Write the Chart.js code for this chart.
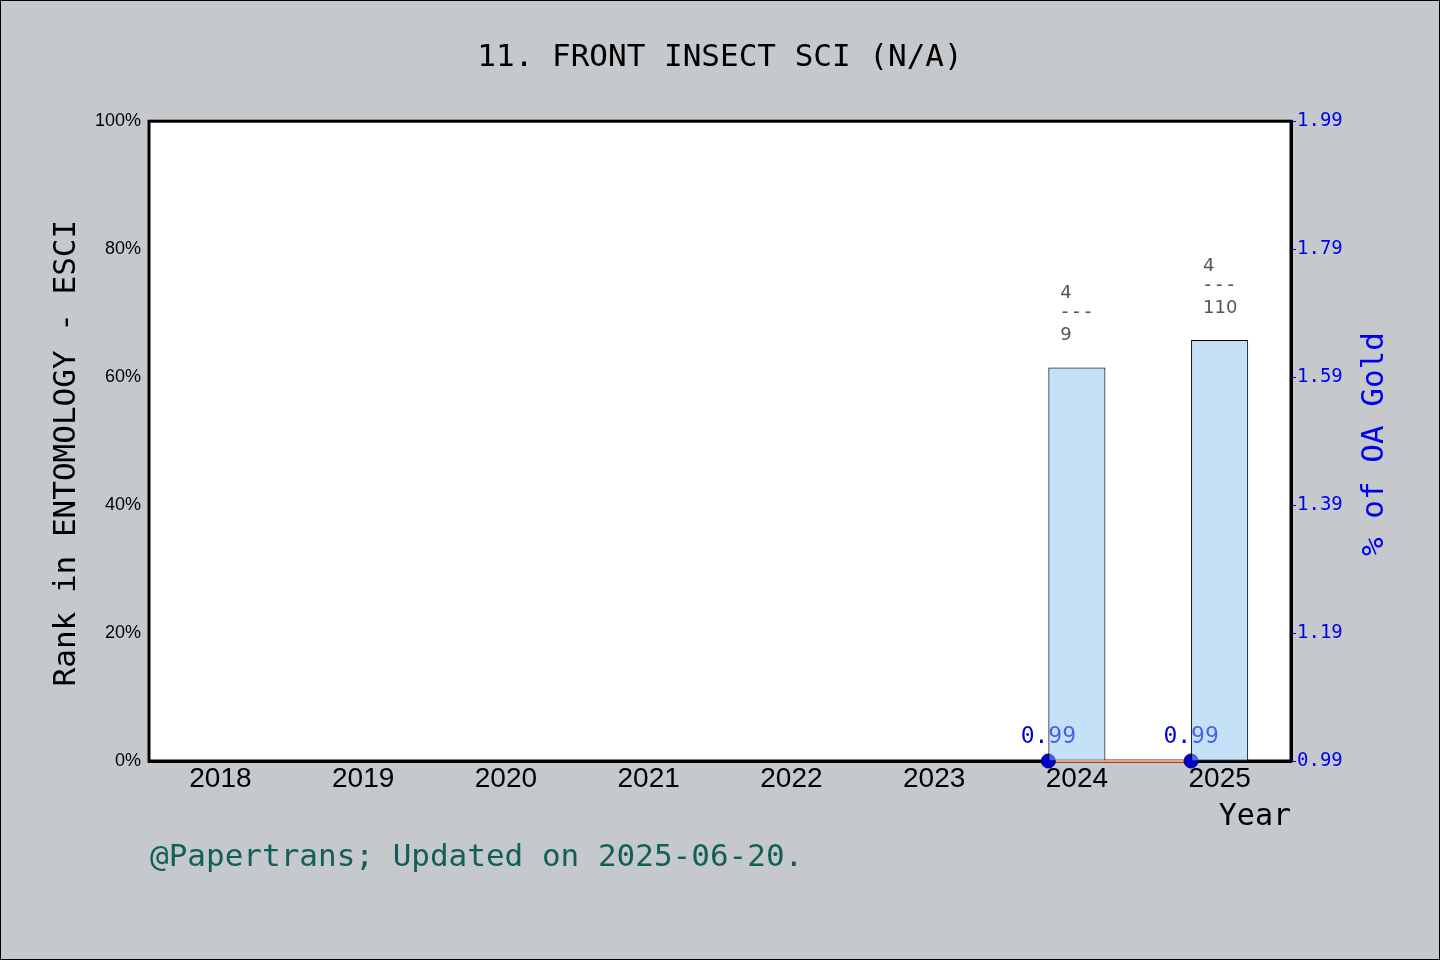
<!DOCTYPE html>
<html>
<head>
<meta charset="utf-8">
<script src="https://cdn.jsdelivr.net/npm/chart.js@4/dist/chart.umd.min.js"></script>
<style>
  html, body { margin: 0; padding: 0; background: #c5c9cc; }
  #wrap { position: relative; width: 1440px; height: 960px; box-sizing: border-box; border: 1px solid #000; }
  #footer { position: absolute; left: 149px; top: 836px; font: 31px "DejaVu Sans Mono", monospace; color: #135e58; white-space: pre; }
</style>
</head>
<body>
<div id="wrap">
  <canvas id="chart" width="1438" height="958"></canvas>
  <div id="footer">@Papertrans; Updated on 2025-06-20.</div>
</div>
<script>
// chart values
const years = ["2018", "2019", "2020", "2021", "2022", "2023", "2024", "2025"];
const rankPct = [null, null, null, null, null, null, 61.5, 65.8];   // bar height, % of category
const rankPos = [null, null, null, null, null, null, 4, 4];
const rankTotal = [null, null, null, null, null, null, 9, 110];
const oaGold = [null, null, null, null, null, null, 0.99, 0.99];    // right axis
const oaOffset = -0.2;   // points sit on the bar's left edge
const rightTicks = [0.99, 1.19, 1.39, 1.59, 1.79, 1.99];

const MONO = '"DejaVu Sans Mono", monospace';
const SANS = '"Liberation Sans", Arial, sans-serif';

const barData = [];
const lineData = [];
years.forEach((y, i) => {
    if (rankPct[i] != null) barData.push({ x: i, y: rankPct[i] });
    if (oaGold[i] != null) lineData.push({ x: i + oaOffset, y: oaGold[i] });
});

function vText(ctx, text, x, y, color) {
    ctx.save();
    ctx.translate(x, y);
    ctx.rotate(-Math.PI / 2);
    ctx.font = '31px ' + MONO;
    ctx.fillStyle = color;
    ctx.textAlign = 'center';
    ctx.textBaseline = 'middle';
    ctx.fillText(text, 0, 0);
    ctx.restore();
}

// white plot area, frame, side titles, labels
const extras = {
    id: 'extras',
    beforeDatasetsDraw(chart) {
        const a = chart.chartArea;
        const ctx = chart.ctx;
        ctx.save();
        ctx.fillStyle = '#fff';
        ctx.fillRect(a.left, a.top, a.right - a.left, a.bottom - a.top);
        ctx.strokeStyle = '#000';
        ctx.lineWidth = 3;
        ctx.strokeRect(a.left, a.top, a.right - a.left, a.bottom - a.top);
        ctx.restore();
    },
    afterDatasetDraw(chart, args) {
        // values of the OA line are drawn under the bars
        if (args.index !== 1) return;
        const ctx = chart.ctx;
        ctx.save();
        ctx.font = '23px ' + MONO;
        ctx.fillStyle = '#0000dd';
        ctx.textAlign = 'center';
        ctx.textBaseline = 'middle';
        args.meta.data.forEach((pt, k) => {
            ctx.fillText(lineData[k].y.toFixed(2), pt.x, pt.y - 24);
        });
        ctx.restore();
    },
    afterDatasetsDraw(chart) {
        const ctx = chart.ctx;
        const a = chart.chartArea;
        ctx.save();
        // rank fraction above each bar
        const meta = chart.getDatasetMeta(0);
        ctx.fillStyle = '#555';
        ctx.textAlign = 'left';
        ctx.textBaseline = 'middle';
        meta.data.forEach((bar, k) => {
            const i = barData[k].x;
            const left = bar.x - bar.width / 2 + 12;
            ctx.font = '18px "DejaVu Sans", sans-serif';
            ctx.fillText(String(rankPos[i]), left, bar.y - 74);
            ctx.fillText(String(rankTotal[i]), left, bar.y - 32);
            ctx.font = '19px ' + MONO;
            ctx.fillText('---', left - 1, bar.y - 54);
        });
        ctx.restore();
        // axis titles, reading bottom to top
        vText(ctx, 'Rank in ENTOMOLOGY - ESCI', 66, (a.top + a.bottom) / 2 + 12, '#000');
        vText(ctx, '% of OA Gold', 1374, (a.top + a.bottom) / 2 + 3, '#0000ee');
    }
};

new Chart(document.getElementById('chart'), {
    data: {
        datasets: [
            {
                type: 'bar',
                label: 'Rank',
                data: barData,
                xAxisID: 'x',
                yAxisID: 'y',
                backgroundColor: 'rgba(140,195,240,0.5)',
                borderColor: '#000',
                borderWidth: 1,
                barPercentage: 1,
                categoryPercentage: 0.4,
                order: 0
            },
            {
                type: 'line',
                label: 'OA Gold',
                data: lineData,
                xAxisID: 'x',
                yAxisID: 'y2',
                borderColor: '#f4a07e',
                borderWidth: 3,
                pointRadius: 7,
                pointBackgroundColor: '#0000cc',
                pointBorderColor: '#000066',
                pointBorderWidth: 1,
                clip: false,
                order: 1
            }
        ]
    },
    options: {
        responsive: false,
        animation: false,
        layout: { padding: 0 },
        plugins: {
            legend: { display: false },
            tooltip: { enabled: false },
            title: {
                display: true,
                text: '11. FRONT INSECT SCI (N/A)',
                color: '#000',
                font: { family: MONO, size: 31, weight: 'normal' },
                padding: { top: 38, bottom: 45 }
            }
        },
        scales: {
            x: {
                type: 'linear',
                position: 'bottom',
                offset: false,
                min: -0.5,
                max: 7.5,
                afterBuildTicks: s => { s.ticks = years.map((y, i) => ({ value: i })); },
                afterFit: s => { s.height = 198; },
                ticks: {
                    callback: v => years[v],
                    color: '#000',
                    font: { family: SANS, size: 28 },
                    padding: 7,
                    maxRotation: 0,
                    autoSkip: false
                },
                grid: { offset: true, drawOnChartArea: false, tickLength: -6, color: '#000', tickColor: '#000', tickWidth: 1 },
                border: { color: '#000', width: 3 },
                title: {
                    display: true,
                    text: 'Year',
                    align: 'end',
                    color: '#000',
                    font: { family: MONO, size: 30 },
                    padding: { bottom: 124 }
                }
            },
            y: {
                position: 'left',
                min: 0,
                max: 100,
                afterFit: s => { s.width = 148; },
                ticks: {
                    stepSize: 20,
                    callback: v => v + '%',
                    color: '#000',
                    font: { family: SANS, size: 18 },
                    padding: 14
                },
                grid: { drawOnChartArea: false, tickLength: -6, color: '#000', tickColor: '#000' },
                border: { color: '#000', width: 3 }
            },
            y2: {
                position: 'right',
                min: 0.99,
                max: 1.99,
                afterBuildTicks: s => { s.ticks = rightTicks.map(v => ({ value: v })); },
                afterFit: s => { s.width = 148; },
                ticks: {
                    callback: v => v.toFixed(2),
                    color: '#0000ee',
                    font: { family: MONO, size: 19 },
                    padding: 1
                },
                grid: { drawOnChartArea: false, tickLength: 5, color: '#0000ee', tickColor: '#0000ee' },
                border: { color: '#000', width: 3 }
            }
        }
    },
    plugins: [extras]
});
</script>
</body>
</html>
